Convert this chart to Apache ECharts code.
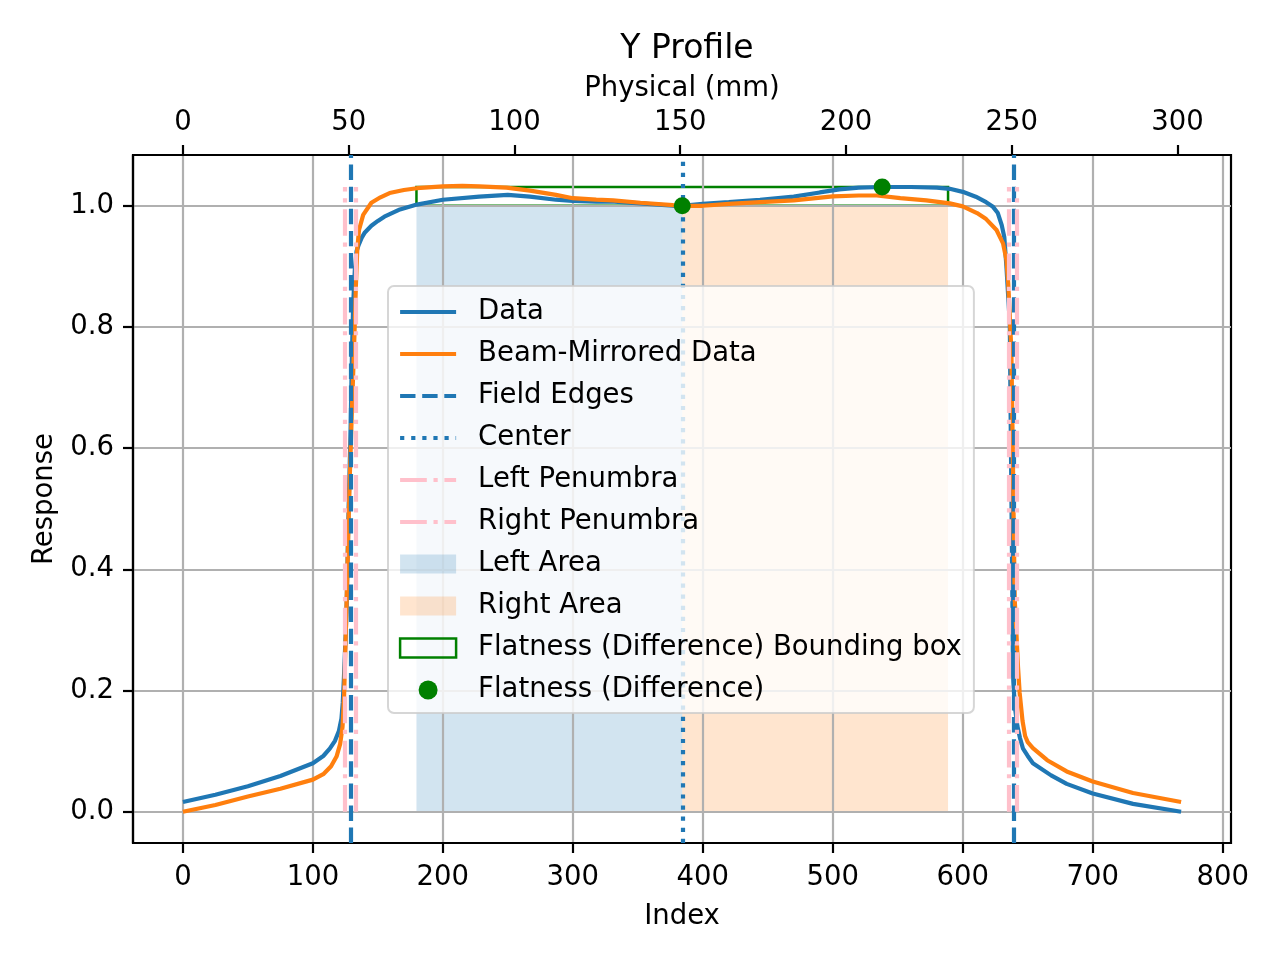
<!DOCTYPE html>
<html>
<head>
<meta charset="utf-8">
<title>Y Profile</title>
<script src="https://cdn.jsdelivr.net/npm/echarts@6/dist/echarts.min.js"></script>
<style>
  html, body { margin: 0; padding: 0; background: #fff; }
  #chart { width: 1280px; height: 960px; }
</style>
</head>
<body>
<div id="chart"></div>
<script>
// profile samples (index, response)
const dataIndex = [0, 25, 50, 75, 100, 108, 113, 117, 120, 122, 123, 123.8, 125, 125.9, 127.5, 129, 130, 131, 132.3, 133.6, 135, 137.5, 140, 145, 150, 155, 167, 180, 200, 228, 250, 267, 287, 300, 318, 332, 352, 377, 384, 400, 420, 444, 470, 490, 505, 520, 538, 560, 580, 590, 600, 610, 618, 623, 627, 630, 632, 633.6, 635, 636.2, 637, 638, 638.7, 640, 642, 644, 646.4, 650, 654, 668, 680, 700, 731, 768]
const dataResponse = [0.016, 0.028, 0.042, 0.059, 0.080, 0.092, 0.104, 0.117, 0.133, 0.154, 0.180, 0.217, 0.280, 0.331, 0.500, 0.630, 0.750, 0.837, 0.895, 0.925, 0.934, 0.947, 0.956, 0.967, 0.975, 0.982, 0.994, 1.002, 1.010, 1.015, 1.018, 1.015, 1.010, 1.008, 1.007, 1.007, 1.004, 1.000, 1.000, 1.003, 1.006, 1.010, 1.015, 1.022, 1.027, 1.030, 1.031, 1.031, 1.030, 1.028, 1.023, 1.015, 1.006, 0.999, 0.988, 0.968, 0.948, 0.900, 0.850, 0.805, 0.620, 0.400, 0.225, 0.175, 0.142, 0.122, 0.104, 0.092, 0.080, 0.060, 0.046, 0.030, 0.013, 0.000]

const mirrorIndex = [0, 25, 50, 75, 100, 108, 114, 118.2, 121, 122.8, 124, 124.6, 126, 127.2, 128.5, 129.8, 131.8, 133.1, 134.2, 135.5, 138.7, 145, 152, 159, 170, 180, 200, 215, 228, 249, 267, 287, 300, 318, 331, 352, 377, 384, 400, 420, 444, 470, 500, 520, 534, 552, 572, 590, 600, 611, 618, 626, 631, 633.6, 635, 636.2, 637.4, 638.5, 639.3, 640, 641.3, 642.5, 643.8, 646, 648, 650, 654, 665, 680, 700, 731, 768]
const mirrorResponse = [0.000, 0.011, 0.025, 0.038, 0.053, 0.062, 0.075, 0.091, 0.112, 0.140, 0.190, 0.236, 0.350, 0.457, 0.560, 0.647, 0.774, 0.868, 0.930, 0.960, 0.985, 1.005, 1.014, 1.021, 1.026, 1.029, 1.032, 1.033, 1.032, 1.030, 1.025, 1.018, 1.0125, 1.010, 1.009, 1.005, 1.001, 1.000, 1.000, 1.003, 1.006, 1.009, 1.0155, 1.017, 1.017, 1.0125, 1.009, 1.004, 0.999, 0.988, 0.978, 0.960, 0.938, 0.911, 0.872, 0.817, 0.762, 0.600, 0.460, 0.350, 0.295, 0.240, 0.196, 0.150, 0.125, 0.115, 0.105, 0.085, 0.0665, 0.050, 0.031, 0.016]

const fieldEdges = [129.0, 639.2]
const centerIndex = 384.2
const leftPenumbra = [124.2, 132.7]
const rightPenumbra = [635.3, 641.5]
const penumbraTop = 1.031
const leftArea = [179.7, 384.2]
const rightArea = [384.2, 588.7]
const areaTop = 1.0
const flatBoxIndex = [179.7, 588.7]
const flatBoxResponse = [1.0, 1.031]
const flatPointIndex = [384.2, 538]
const flatPointResponse = [1.0, 1.031]

// ticks
const indexTicks = [0, 100, 200, 300, 400, 500, 600, 700, 800]
const responseTicks = [0, 0.2, 0.4, 0.6, 0.8, 1.0]
const mmTicks = [0, 50, 100, 150, 200, 250, 300]

// axis ranges (matplotlib-like 5% margins)
const xMin = -38.4, xMax = 806.4
const yMin = -0.0516, yMax = 1.0838
const MM_PER_INDEX = 0.392

const FONT = 'DejaVu Sans'
const FS = 27.5
const LW = 4.2
const BLUE = '#1f77b4'
const ORANGE = '#ff7f0e'
const PINK = '#ffc0cb'
const GREEN = '#008000'
const LEFT_FILL = 'rgba(31,119,180,0.2)'
const RIGHT_FILL = 'rgba(255,127,14,0.2)'
const DASHED = [15.4, 6.7]
const DOTTED = [4.2, 6.9]
const DASHDOT = [26.7, 6.7, 4.2, 6.7]
const NO_SYMBOL = { color: 'rgba(0,0,0,0)', borderWidth: 0 }

const pairs = (xs, ys) => xs.map((x, i) => [x, ys[i]])

const chart = echarts.init(document.getElementById('chart'))

const axisCommon = {
  axisLine: { show: true, onZero: false, lineStyle: { color: '#000', width: 2.2 } },
  axisTick: { show: true, inside: false, length: 10, lineStyle: { color: '#000', width: 2.2 } },
  nameTextStyle: { fontFamily: FONT, fontSize: FS, color: '#000' },
  z: 1
}

const option = {
  animation: false,
  textStyle: { fontFamily: FONT },
  title: {
    text: 'Y Profile',
    left: 682,
    top: 28,
    textAlign: 'center',
    textStyle: { fontFamily: FONT, fontSize: 33, fontWeight: 'normal', color: '#000' }
  },
  grid: {
    left: 133, top: 155, width: 1098, height: 688,
    show: true, borderColor: '#000', borderWidth: 2.2, backgroundColor: 'transparent'
  },
  legend: {
    orient: 'vertical',
    left: 388,
    top: 286,
    z: 10,
    selectedMode: false,
    itemWidth: 56,
    itemHeight: 19,
    itemGap: 10,
    padding: [10, 12, 7, 10],
    backgroundColor: 'rgba(255,255,255,0.8)',
    borderColor: 'rgba(204,204,204,0.8)',
    borderWidth: 2,
    borderRadius: 6,
    lineStyle: { width: LW },
    textStyle: { fontFamily: FONT, fontSize: FS, color: '#000', lineHeight: 32, padding: [0, 0, 0, 17] },
    data: [
      { name: 'Data', itemStyle: NO_SYMBOL },
      { name: 'Beam-Mirrored Data', itemStyle: NO_SYMBOL },
      { name: 'Field Edges', itemStyle: NO_SYMBOL },
      { name: 'Center', itemStyle: NO_SYMBOL },
      { name: 'Left Penumbra', itemStyle: NO_SYMBOL },
      { name: 'Right Penumbra', itemStyle: NO_SYMBOL },
      { name: 'Left Area', icon: 'rect', itemStyle: { color: LEFT_FILL } },
      { name: 'Right Area', icon: 'rect', itemStyle: { color: RIGHT_FILL } },
      { name: 'Flatness (Difference) Bounding box', icon: 'rect',
        itemStyle: { color: 'rgba(0,0,0,0)', borderColor: GREEN, borderWidth: 2.5 } },
      { name: 'Flatness (Difference)', icon: 'circle', itemStyle: { color: GREEN } }
    ]
  },
  xAxis: [
    Object.assign({}, axisCommon, {
      type: 'value',
      position: 'bottom',
      min: xMin,
      max: xMax,
      name: 'Index',
      nameLocation: 'middle',
      nameGap: 60,
      axisTick: Object.assign({}, axisCommon.axisTick, { customValues: indexTicks }),
      axisLabel: { fontFamily: FONT, fontSize: FS, color: '#000', margin: 21, customValues: indexTicks },
      splitLine: { show: true, lineStyle: { color: '#b0b0b0', width: 2.2 } }
    }),
    Object.assign({}, axisCommon, {
      type: 'value',
      position: 'top',
      min: xMin * MM_PER_INDEX,
      max: xMax * MM_PER_INDEX,
      name: 'Physical (mm)',
      nameLocation: 'middle',
      nameGap: 52,
      axisTick: Object.assign({}, axisCommon.axisTick, { customValues: mmTicks }),
      axisLabel: { fontFamily: FONT, fontSize: FS, color: '#000', margin: 18, customValues: mmTicks },
      splitLine: { show: false }
    })
  ],
  yAxis: Object.assign({}, axisCommon, {
    type: 'value',
    min: yMin,
    max: yMax,
    name: 'Response',
    nameLocation: 'middle',
    nameGap: 74,
    axisTick: Object.assign({}, axisCommon.axisTick, { customValues: responseTicks }),
    axisLabel: {
      fontFamily: FONT, fontSize: FS, color: '#000', margin: 19, customValues: responseTicks,
      formatter: v => v.toFixed(1)
    },
    splitLine: { show: true, lineStyle: { color: '#b0b0b0', width: 2.2 } }
  }),
  series: [
    {
      name: 'Data',
      type: 'line',
      data: pairs(dataIndex, dataResponse),
      symbol: 'none',
      color: BLUE,
      lineStyle: { color: BLUE, width: LW },
      emphasis: { disabled: true },
      z: 2
    },
    {
      name: 'Beam-Mirrored Data',
      type: 'line',
      data: pairs(mirrorIndex, mirrorResponse),
      symbol: 'none',
      color: ORANGE,
      lineStyle: { color: ORANGE, width: LW },
      emphasis: { disabled: true },
      z: 2
    },
    {
      name: 'Field Edges',
      type: 'line',
      data: [],
      symbol: 'none',
      color: BLUE,
      lineStyle: { color: BLUE, width: LW, type: DASHED },
      markLine: {
        silent: true, z: 5, symbol: ['none', 'none'], label: { show: false },
        emphasis: { disabled: true },
        lineStyle: { color: BLUE, width: LW, type: DASHED },
        data: fieldEdges.map(x => ({ xAxis: x }))
      }
    },
    {
      name: 'Center',
      type: 'line',
      data: [],
      symbol: 'none',
      color: BLUE,
      lineStyle: { color: BLUE, width: LW, type: DOTTED },
      markLine: {
        silent: true, z: 5, symbol: ['none', 'none'], label: { show: false },
        emphasis: { disabled: true },
        lineStyle: { color: BLUE, width: LW, type: DOTTED },
        data: [{ xAxis: centerIndex }]
      }
    },
    {
      name: 'Left Penumbra',
      type: 'line',
      data: [],
      symbol: 'none',
      color: PINK,
      lineStyle: { color: PINK, width: LW, type: DASHDOT },
      markLine: {
        silent: true, z: 6, symbol: ['none', 'none'], label: { show: false },
        emphasis: { disabled: true },
        lineStyle: { color: PINK, width: LW, type: DASHDOT },
        data: leftPenumbra.map(x => [{ coord: [x, 0] }, { coord: [x, penumbraTop] }])
      }
    },
    {
      name: 'Right Penumbra',
      type: 'line',
      data: [],
      symbol: 'none',
      color: PINK,
      lineStyle: { color: PINK, width: LW, type: DASHDOT },
      markLine: {
        silent: true, z: 6, symbol: ['none', 'none'], label: { show: false },
        emphasis: { disabled: true },
        lineStyle: { color: PINK, width: LW, type: DASHDOT },
        data: rightPenumbra.map(x => [{ coord: [x, 0] }, { coord: [x, penumbraTop] }])
      }
    },
    {
      name: 'Left Area',
      type: 'line',
      data: [],
      color: LEFT_FILL,
      markArea: {
        silent: true, z: 0,
        itemStyle: { color: LEFT_FILL },
        data: [[{ coord: [leftArea[0], 0] }, { coord: [leftArea[1], areaTop] }]]
      }
    },
    {
      name: 'Right Area',
      type: 'line',
      data: [],
      color: RIGHT_FILL,
      markArea: {
        silent: true, z: 0,
        itemStyle: { color: RIGHT_FILL },
        data: [[{ coord: [rightArea[0], 0] }, { coord: [rightArea[1], areaTop] }]]
      }
    },
    {
      name: 'Flatness (Difference) Bounding box',
      type: 'line',
      data: [],
      color: GREEN,
      markArea: {
        silent: true, z: 0,
        itemStyle: { color: 'rgba(0,0,0,0)', borderColor: GREEN, borderWidth: 2.5 },
        data: [[{ coord: [flatBoxIndex[0], flatBoxResponse[0]] }, { coord: [flatBoxIndex[1], flatBoxResponse[1]] }]]
      }
    },
    {
      name: 'Flatness (Difference)',
      type: 'scatter',
      data: pairs(flatPointIndex, flatPointResponse),
      symbol: 'circle',
      symbolSize: 17,
      itemStyle: { color: GREEN, opacity: 1 },
      emphasis: { disabled: true },
      z: 8
    }
  ]
}

chart.setOption(option)
window.addEventListener('resize', () => chart.resize())
</script>
</body>
</html>
